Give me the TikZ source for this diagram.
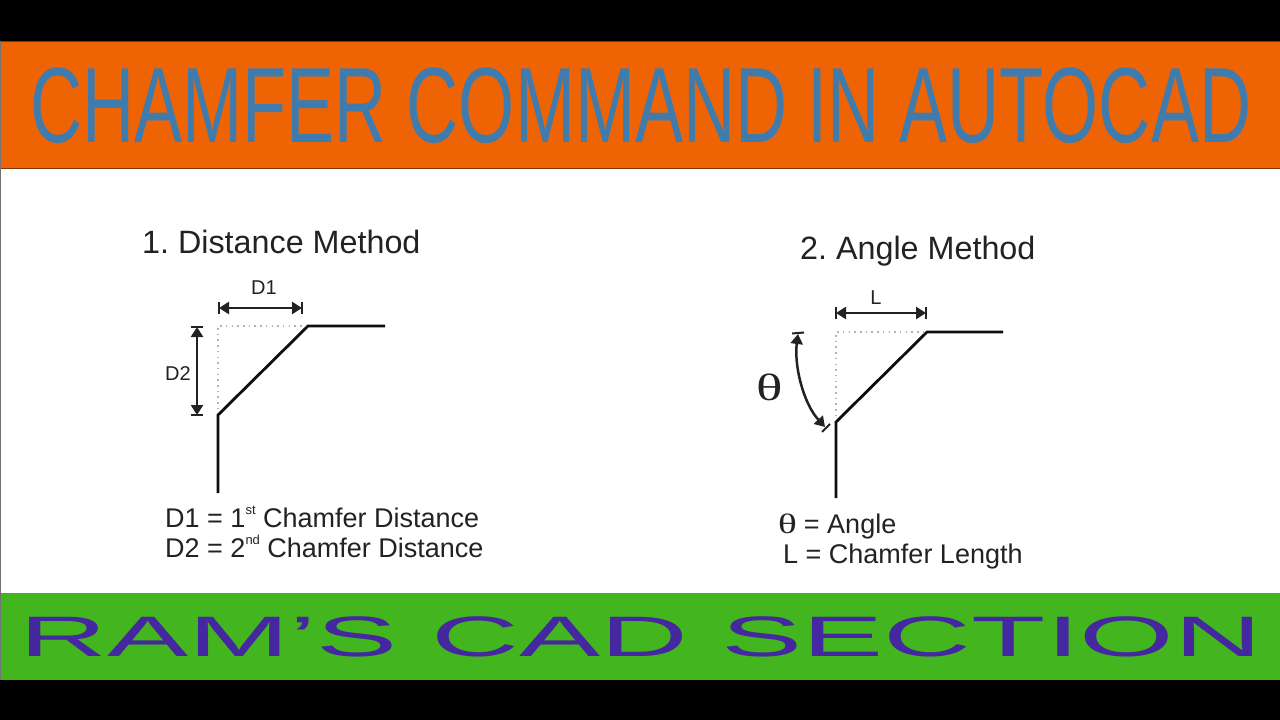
\documentclass[tikz,border=0pt]{standalone}
\usepackage{fontspec}
\setmainfont{Liberation Sans}
\newfontfamily\thetafont{Liberation Serif}
\usetikzlibrary{arrows.meta}
\definecolor{bandorange}{HTML}{EE6405}
\definecolor{titleblue}{HTML}{3F7CAD}
\definecolor{bandgreen}{HTML}{43B51F}
\definecolor{footpurple}{HTML}{4527A0}
\definecolor{ink}{HTML}{222222}
\newcommand{\supr}[1]{\raisebox{13pt}{\fontsize{13}{13}\selectfont #1}}
\newcommand{\thetaglyph}[2]{\scalebox{#2}[1]{\thetafont\fontsize{#1}{#1}\selectfont θ}}
\tikzset{
  heading/.style={anchor=base west,inner sep=0pt,text=ink,font=\fontsize{32.3}{36}\selectfont},
  legend/.style={anchor=base west,inner sep=0pt,text=ink,font=\fontsize{27}{30}\selectfont},
  dimlabel/.style={inner sep=0pt,text=ink,font=\fontsize{20}{24}\selectfont},
  profile/.style={draw=black!95,line width=2.8pt,line join=miter},
  hint/.style={draw=black!30,line width=1.5pt,dash pattern=on 1.5pt off 4.2pt},
  dim/.style={draw=ink,line width=2.5pt,{Triangle[length=10pt,width=12pt]}-{Triangle[length=10pt,width=12pt]}},
  tick/.style={draw=ink,line width=2pt}
}
\begin{document}
\frenchspacing
\begin{tikzpicture}[x=1pt,y=-1pt]
\useasboundingbox (0,0) rectangle (1280,720);
\fill[black] (0,0) rectangle (1280,720);
\fill[white] (0,41) rectangle (1280,680);
\fill[bandorange] (0,41) rectangle (1280,168);
\draw[black!45!bandorange,line width=.8pt] (0,41) -- (1280,41) (0,168) -- (1280,168);
\fill[bandgreen] (0,593) rectangle (1280,680);
\draw[black!50,line width=.8pt] (0,593) -- (1280,593);
\draw[black!55,line width=1pt] (0.5,41) -- (0.5,680);
\node[anchor=base west,inner sep=0pt,text=titleblue] (title) at (30,142)
  {\resizebox{1221pt}{\height}{\fontsize{107}{107}\selectfont CHAMFER COMMAND IN AUTOCAD}};
\node[anchor=base west,inner sep=0pt,text=footpurple] (footer) at (19,656)
  {\resizebox{1243pt}{\height}{\fontsize{57}{57}\selectfont RAM’S CAD SECTION}};

\node[heading] (h1) at (142,253) {1. Distance Method};
\node[heading] (h2) at (800,259) {2. Angle Method};

% left figure
\coordinate (lc) at (218,326);
\coordinate (lt) at (308,326);
\coordinate (lr) at (385,326);
\coordinate (lb) at (218,415);
\coordinate (ld) at (218,493);
\draw[hint] (lb) -- (lc) -- (lt);
\draw[profile] (lr) -- (lt) -- (lb) -- (ld);
\coordinate (d1a) at (219,308);
\coordinate (d1b) at (302,308);
\draw[dim] (d1a) -- (d1b);
\draw[tick] (219,302) coordinate (t1) -- (219,314) coordinate (t2);
\draw[tick] (302,302) coordinate (t3) -- (302,314) coordinate (t4);
\coordinate (d2a) at (197,327);
\coordinate (d2b) at (197,415);
\draw[dim] (d2a) -- (d2b);
\draw[tick] (191,327) coordinate (t5) -- (203,327) coordinate (t6);
\draw[tick] (191,415) coordinate (t7) -- (203,415) coordinate (t8);
\node[dimlabel] (d1l) at (264,288) {D1};
\node[dimlabel] (d2l) at (178,373.5) {D2};
\node[legend] (leg1) at (165,527) {D1 = 1\supr{st} Chamfer Distance};
\node[legend] (leg2) at (165,557) {D2 = 2\supr{nd} Chamfer Distance};

% right figure
\coordinate (rc) at (836,332);
\coordinate (rt) at (927,332);
\coordinate (rr) at (1003,332);
\coordinate (rb) at (836,422);
\coordinate (rd) at (836,498);
\draw[hint] (rb) -- (rc) -- (rt);
\draw[profile] (rr) -- (rt) -- (rb) -- (rd);
\coordinate (la) at (836,313);
\coordinate (lz) at (926,313);
\draw[dim] (la) -- (lz);
\draw[tick] (836,307) coordinate (t9) -- (836,319) coordinate (t10);
\draw[tick] (926,307) coordinate (t11) -- (926,319) coordinate (t12);
\coordinate (aa) at (798,334);
\coordinate (ab) at (825,427);
\draw[dim] (aa) .. controls (794,365) and (803,403) .. (ab);
\draw[tick] (792,333.5) coordinate (t13) -- (804,332.5) coordinate (t14);
\draw[tick] (822,432) coordinate (t15) -- (830,424) coordinate (t16);
\node[inner sep=0pt,text=ink] (thetaA) at (770,387) {\thetaglyph{38}{1.45}};
\node[legend] (thetaB) at (778,533) {\thetaglyph{28}{1.4}\hspace{7pt}= Angle};
\node[legend] (leg3) at (783,563) {L = Chamfer Length};
\node[dimlabel] (ll) at (876,298) {L};
\end{tikzpicture}
\end{document}
